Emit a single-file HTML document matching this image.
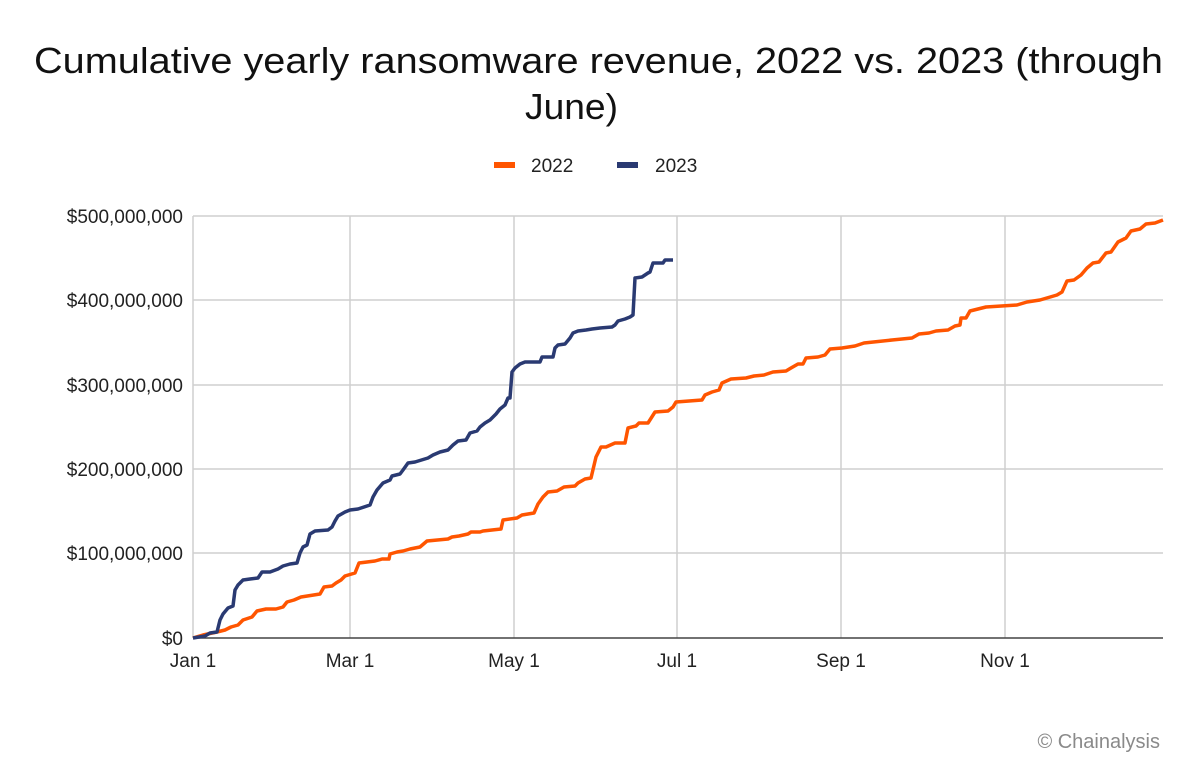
<!DOCTYPE html>
<html><head><meta charset="utf-8"><style>
html,body{margin:0;padding:0;background:#fff;}
svg{display:block;font-family:"Liberation Sans",sans-serif;}
</style></head><body>
<svg width="1200" height="772" viewBox="0 0 1200 772" xmlns="http://www.w3.org/2000/svg">
<rect width="1200" height="772" fill="#fff"/>
<text x="34" y="73" font-size="36" fill="#111" textLength="1129" lengthAdjust="spacingAndGlyphs">Cumulative yearly ransomware revenue, 2022 vs. 2023 (through</text>
<text x="525" y="119" font-size="36" fill="#111" textLength="93" lengthAdjust="spacingAndGlyphs">June)</text>
<rect x="494" y="162" width="21" height="6" fill="#ff5500"/>
<text x="531" y="172" font-size="19" fill="#222">2022</text>
<rect x="617" y="162" width="21" height="6" fill="#2a3a72"/>
<text x="655" y="172" font-size="19" fill="#222">2023</text>
<g stroke="#cfcfcf" stroke-width="1.5" fill="none">
<line x1="193" y1="216" x2="1163" y2="216"/>
<line x1="193" y1="300" x2="1163" y2="300"/>
<line x1="193" y1="385" x2="1163" y2="385"/>
<line x1="193" y1="469" x2="1163" y2="469"/>
<line x1="193" y1="553" x2="1163" y2="553"/>
<line x1="193" y1="216" x2="193" y2="638"/>
<line x1="350" y1="216" x2="350" y2="638"/>
<line x1="514" y1="216" x2="514" y2="638"/>
<line x1="677" y1="216" x2="677" y2="638"/>
<line x1="841" y1="216" x2="841" y2="638"/>
<line x1="1005" y1="216" x2="1005" y2="638"/>
</g>
<line x1="193" y1="638" x2="1163" y2="638" stroke="#444" stroke-width="1.5"/>
<g font-size="19" fill="#222" text-anchor="end">
<text x="183" y="223">$500,000,000</text>
<text x="183" y="307">$400,000,000</text>
<text x="183" y="392">$300,000,000</text>
<text x="183" y="476">$200,000,000</text>
<text x="183" y="560">$100,000,000</text>
<text x="183" y="645">$0</text>
</g>
<g font-size="19" fill="#222" text-anchor="middle">
<text x="193" y="667">Jan 1</text>
<text x="350" y="667">Mar 1</text>
<text x="514" y="667">May 1</text>
<text x="677" y="667">Jul 1</text>
<text x="841" y="667">Sep 1</text>
<text x="1005" y="667">Nov 1</text>
</g>
<polyline fill="none" stroke="#ff5500" stroke-width="3.5" stroke-linejoin="round" points="193,638 203,635 217,632 225,630 231,627 238,625 243,620 252,617 257,611 266,609 276,609 283,607 287,602 294,600 301,597 320,594 324,587 332,586 336,583 341,580 345,576 355,573 359,563 375,561 382,559 389,559 390,554 397,552 403,551 410,549 420,547 427,541 448,539 452,537 459,536 468,534 471,532 480,532 483,531 501,529 503,520 517,518 522,515 534,513 538,504 543,497 548,492 557,491 564,487 575,486 578,483 585,479 591,478 596,457 601,447 606,447 615,443 625,443 628,428 636,426 639,423 648,423 655,412 668,411 673,407 676,402 702,400 705,395 712,392 719,390 722,383 731,379 746,378 754,376 764,375 773,372 786,371 791,368 798,364 803,364 806,358 818,357 825,355 830,349 842,348 855,346 864,343 892,340 902,339 912,338 919,334 929,333 936,331 948,330 955,326 960,325 961,318 966,318 970,311 986,307 1017,305 1027,302 1040,300 1057,295 1062,292 1067,281 1074,280 1081,275 1087,268 1093,263 1099,262 1106,253 1111,252 1118,242 1126,238 1131,231 1140,229 1146,224 1155,223 1163,220"/>
<polyline fill="none" stroke="#2a3a72" stroke-width="3.5" stroke-linejoin="round" points="193,638 205,636 210,633 217,632 220,620 223,614 228,608 233,606 235,590 238,585 243,580 250,579 258,578 262,572 270,572 278,569 283,566 290,564 297,563 300,553 303,547 307,545 310,534 315,531 328,530 332,527 335,521 338,516 345,512 350,510 358,509 370,505 373,497 377,490 383,483 390,480 392,476 400,474 403,470 408,463 415,462 428,458 433,455 440,452 448,450 453,445 458,441 466,440 470,433 477,431 480,427 485,423 490,420 496,414 500,409 505,405 508,398 510,398 512,372 515,368 520,364 525,362 540,362 542,357 553,357 555,348 558,345 565,344 570,338 573,333 578,331 586,330 592,329 600,328 612,327 615,325 618,321 625,319 630,317 633,315 635,278 642,277 648,273 650,272 653,263 663,263 665,260 673,260"/>
<text x="1160" y="748" font-size="20" fill="#8a8a8a" text-anchor="end">© Chainalysis</text>
</svg>
</body></html>
